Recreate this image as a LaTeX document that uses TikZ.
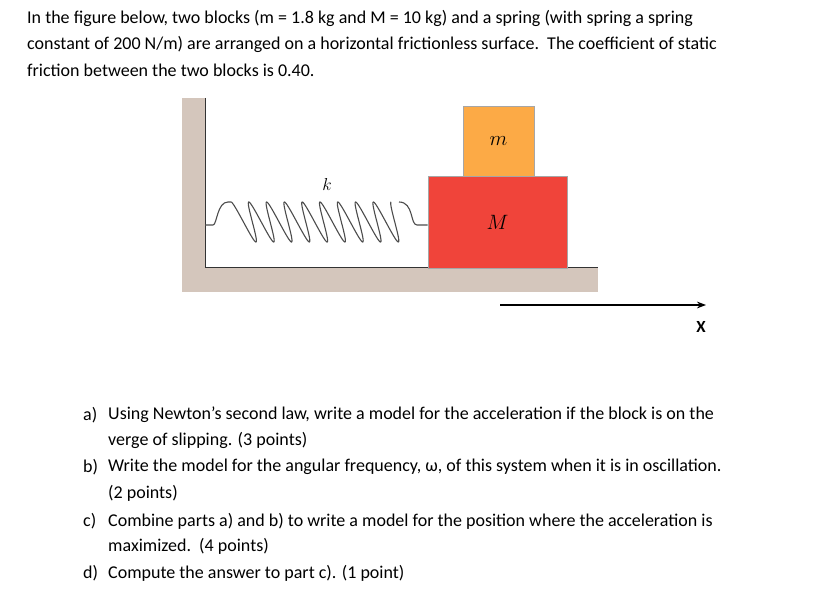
\documentclass[tikz,border=0pt]{standalone}
\usepackage{fontspec}
\setmainfont{Carlito}
\usetikzlibrary{arrows.meta}
\definecolor{bigred}{RGB}{240,68,58}
\definecolor{smallor}{RGB}{252,170,70}
\definecolor{ground}{RGB}{212,198,188}
\begin{document}
\begin{tikzpicture}[x=1pt,y=-1pt,
  txt/.style={anchor=west,inner sep=0pt,font=\fontsize{18}{20}\selectfont},
  blk/.style={draw=gray!70,line width=0.6pt}]
\useasboundingbox (0,0) rectangle (825,596);
\node[txt] (l1) at (27,18) {In the figure below, two blocks (m = 1.8 kg and M = 10 kg) and a spring (with spring a spring};
\node[txt] (l2) at (27,44) {constant of 200 N/m) are arranged on a horizontal frictionless surface.\ \ The coefficient of static};
\node[txt] (l3) at (27,70) {friction between the two blocks is 0.40.};
% ground
\fill[ground] (182,98) rectangle (206,292);
\fill[ground] (182,268) rectangle (598,292);
\draw[gray!40!black,line width=1pt] (205,98) -- (205,268) -- (598,268);
% blocks
\node[blk,fill=bigred,minimum width=139pt,minimum height=92pt,inner sep=0pt] (M) at (497.5,222) {\fontsize{20}{20}\selectfont$M$};
\node[blk,fill=smallor,minimum width=71pt,minimum height=70pt,inner sep=0pt] (m) at (498.5,141) {\fontsize{20}{20}\selectfont$m$};
% spring
\coordinate (sA) at (205,225);
\coordinate (sB) at (M.west |- 0,225);
\draw[gray!60!black,line width=1.1pt] (sA) -- (213,225) .. controls (217,225) and (217,202) .. (228,202)
  -- plot[domain=0:9*360,samples=500,smooth] ({231+\x/360*17.8+8*sin(\x-90)+8}, {222-20*cos(\x)});
\draw[gray!60!black,line width=1.1pt] (399,202) .. controls (414,202) and (410,225) .. (417,225) -- (sB);
\node[font=\fontsize{18}{18}\selectfont] (k) at (327,185) {$k$};
% axis
\coordinate (a0) at (500,305);
\coordinate (a1) at (706,305);
\draw[line width=1.6pt,-{Stealth[length=9pt]}] (a0) -- (a1);
\node[font=\bfseries\fontsize{17}{17}\selectfont] (X) at (701,327) {X};
% questions
\node[txt] (qa) at (83,415) {a)};
\node[txt] at (108,415) {Using Newton’s second law, write a model for the acceleration if the block is on the};
\node[txt] at (108,440) {verge of slipping. (3 points)};
\node[txt] (qb) at (83,467) {b)};
\node[txt] at (108,467) {Write the model for the angular frequency, ω, of this system when it is in oscillation.};
\node[txt] at (108,493) {(2 points)};
\node[txt] (qc) at (83,521) {c)};
\node[txt] at (108,521) {Combine parts a) and b) to write a model for the position where the acceleration is};
\node[txt] at (108,546) {maximized.\ \ (4 points)};
\node[txt] (qd) at (83,573) {d)};
\node[txt] at (108,573) {Compute the answer to part c). (1 point)};
\end{tikzpicture}
\end{document}
